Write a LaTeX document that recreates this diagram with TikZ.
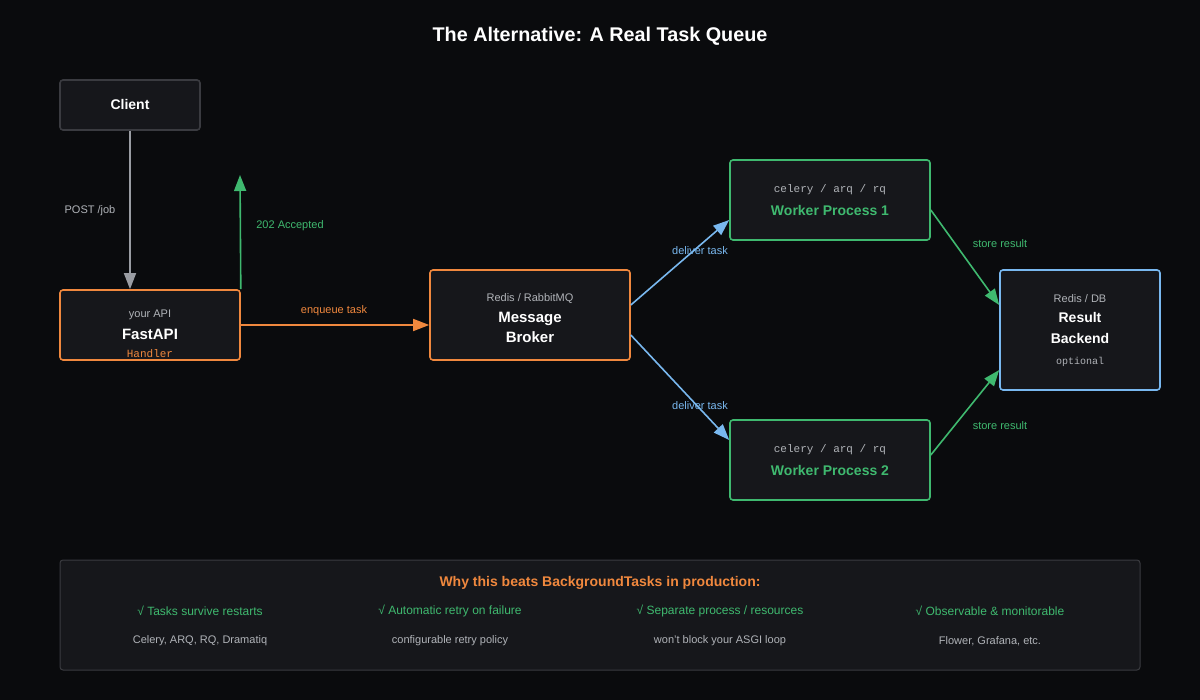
\documentclass[tikz,border=0pt]{standalone}
\usepackage{fontspec}
\setmainfont{Liberation Sans}
\setsansfont{Liberation Sans}
\setmonofont{Liberation Mono}
\usetikzlibrary{arrows.meta,positioning}
\definecolor{bg}{HTML}{0A0B0D}
\definecolor{boxfill}{HTML}{16171B}
\definecolor{grayline}{HTML}{3A3B40}
\definecolor{orangeC}{HTML}{F0883E}
\definecolor{greenC}{HTML}{3FB96F}
\definecolor{blueC}{HTML}{79B8EF}
\definecolor{textgray}{HTML}{B0B3B8}
\definecolor{arrowgray}{HTML}{9A9DA3}

\tikzset{
	box/.style={draw, fill=boxfill, rounded corners=3pt, line width=1.6pt, align=center, inner sep=0pt},
	tip/.style={-{Triangle[length=16pt,width=12pt]}, line width=1.6pt},
	lbl/.style={font=\fontsize{11}{13}\selectfont}
}

\begin{document}
\begin{tikzpicture}[x=1pt,y=-1pt]
	\fill[bg] (0,0) rectangle (1200,700);
	\useasboundingbox (0,0) rectangle (1200,700);

	\node[white,font=\bfseries\fontsize{19.8}{24}\selectfont] (title) at (600,36) {The Alternative: A Real Task Queue};

	% boxes
	\node[box,draw=grayline,minimum width=140pt,minimum height=50pt,text=white,font=\bfseries\fontsize{14}{16}\selectfont] (client) at (130,105) {Client};
	\node[box,draw=orangeC,minimum width=180pt,minimum height=70pt] (api) at (150,325) {};
	\node[text=textgray,lbl] at (150,315) {your API};
	\node[text=white,font=\bfseries\fontsize{15}{18}\selectfont] at (150,334) {FastAPI};
	\node[text=orangeC,font=\ttfamily\fontsize{11}{13}\selectfont] at (150,354) {Handler};

	\node[box,draw=orangeC,minimum width=200pt,minimum height=90pt] (broker) at (530,315) {};
	\node[text=textgray,lbl] at (530,299) {Redis / RabbitMQ};
	\node[text=white,font=\bfseries\fontsize{15}{20}\selectfont,align=center] at (530,327) {Message\\Broker};

	\foreach \n/\y/\k in {w1/200/1,w2/460/2}{
		\node[box,draw=greenC,minimum width=200pt,minimum height=80pt] (\n) at (830,\y) {};
		\node[text=textgray,font=\ttfamily\fontsize{11}{13}\selectfont] at (830,\y-10) {celery / arq / rq};
		\node[text=greenC,font=\bfseries\fontsize{14}{16}\selectfont] at (830,\y+10) {Worker Process \k};
	}

	\node[box,draw=blueC,minimum width=160pt,minimum height=120pt] (result) at (1080,330) {};
	\node[text=textgray,lbl] at (1080,299) {Redis / DB};
	\node[text=white,font=\bfseries\fontsize{14}{21}\selectfont,align=center] at (1080,328) {Result\\Backend};
	\node[text=textgray,font=\ttfamily\fontsize{10}{12}\selectfont] at (1080,362) {optional};

	% connectors
	\coordinate (acc) at (240,175);
	\draw[tip,arrowgray] (client.south) -- (client.south |- api.north);
	\node[text=textgray,lbl] at (90,211) {POST /job};
	\draw[tip,greenC] (api.north east) -- (acc);
	\node[text=greenC,lbl] at (290,226) {202 Accepted};
	\draw[tip,orangeC] (api.east) -- (api.east -| broker.west);
	\node[text=orangeC,lbl] at (334,311) {enqueue task};
	\draw[tip,blueC] ([yshift=10pt]broker.east) -- ([yshift=-20pt]w1.west);
	\draw[tip,blueC] ([yshift=-20pt]broker.east) -- ([yshift=20pt]w2.west);
	\node[text=blueC,lbl] at (700,251) {deliver task};
	\node[text=blueC,lbl] at (700,406) {deliver task};
	\draw[tip,greenC] ([yshift=-10pt]w1.east) -- ([yshift=25pt]result.west);
	\draw[tip,greenC] ([yshift=5pt]w2.east) -- ([yshift=-40pt]result.west);
	\node[text=greenC,lbl] at (1000,244) {store result};
	\node[text=greenC,lbl] at (1000,426) {store result};

	% bottom panel
	\node[box,draw=grayline,line width=1pt,minimum width=1080pt,minimum height=110pt] (why) at (600,615) {};
	\node[text=orangeC,font=\bfseries\fontsize{14}{17}\selectfont] at (600,583) {Why this beats BackgroundTasks in production:};
	\foreach \x/\a/\b in {200/{Tasks survive restarts}/{Celery, ARQ, RQ, Dramatiq},
		450/{Automatic retry on failure}/{configurable retry policy},
		720/{Separate process {/} resources}/{won't block your ASGI loop},
		990/{Observable \& monitorable}/{Flower, Grafana, etc.}}{
		\node[text=greenC,font=\fontsize{12}{15}\selectfont] at (\x,611) {√ \a};
		\node[text=textgray,lbl] at (\x,641) {\b};
	}
\end{tikzpicture}
\end{document}
